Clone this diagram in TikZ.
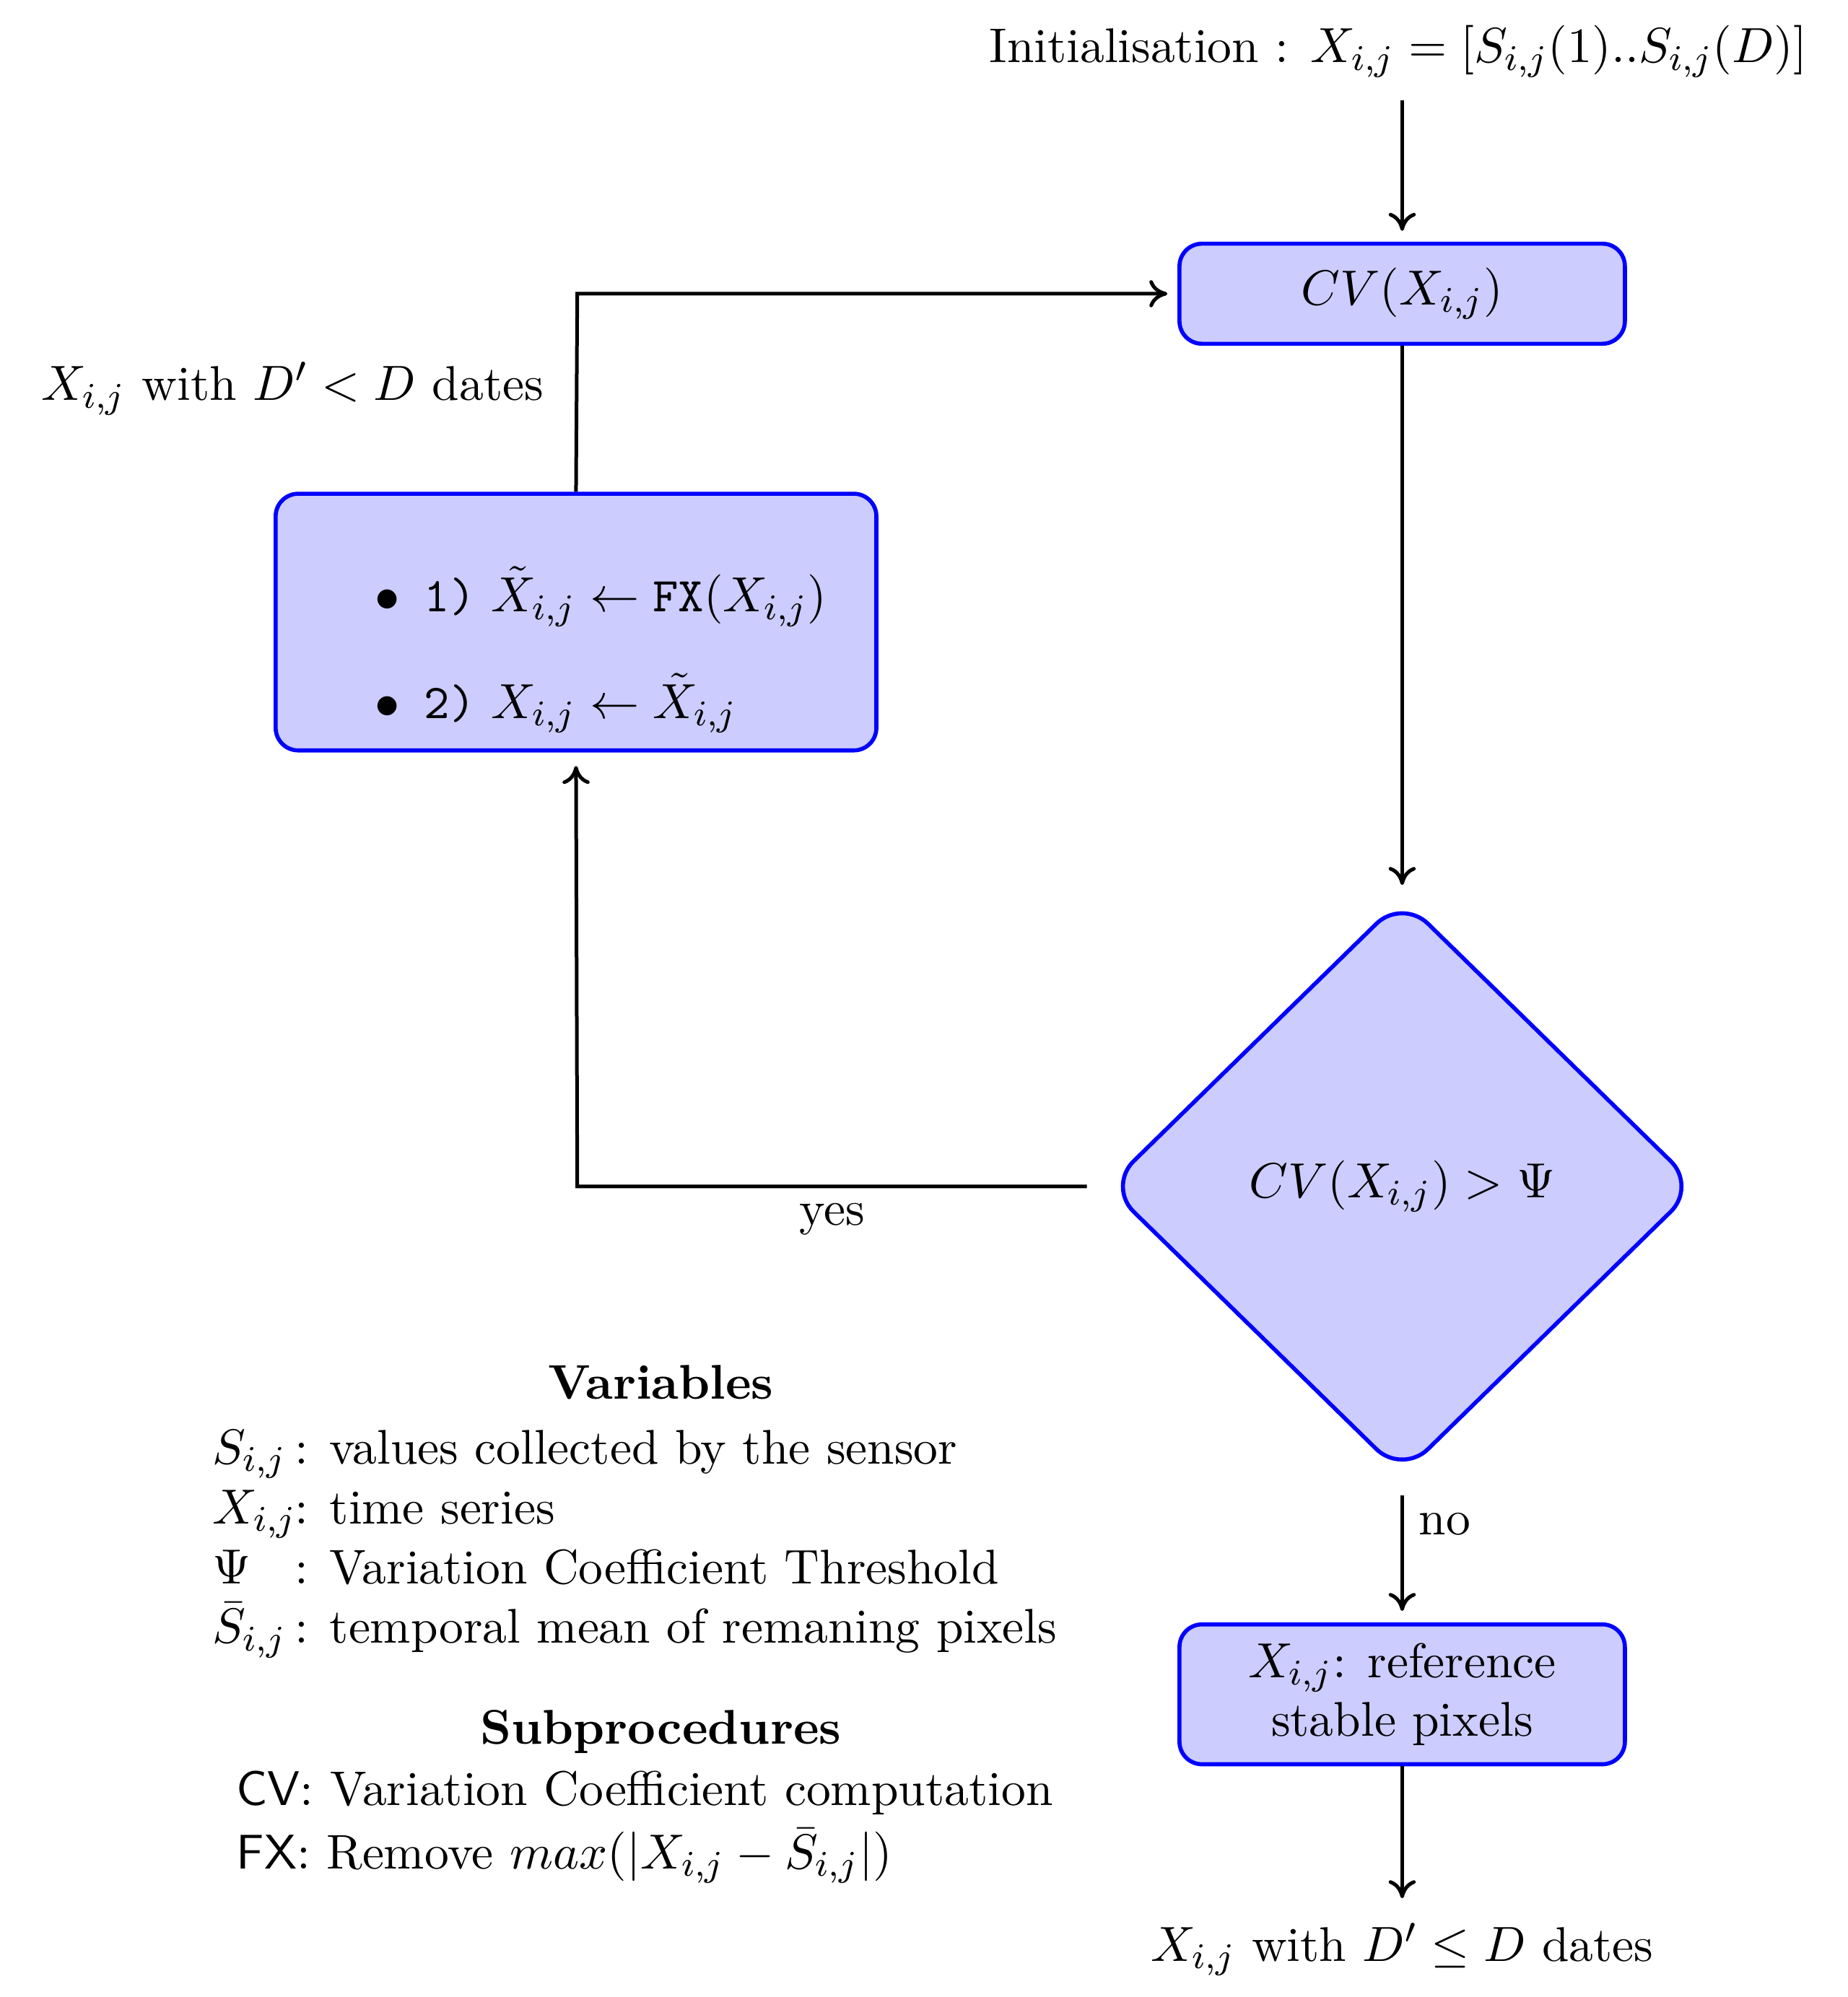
\documentclass[tikz,border=0pt]{standalone}
\usetikzlibrary{shapes.geometric,arrows.meta}
\begin{document}
\begin{tikzpicture}[x=0.01cm,y=-0.01cm,font=\fontsize{10.8}{13}\selectfont,
  box/.style={draw=blue,fill=blue!20,line width=0.9pt,rounded corners=5pt,inner sep=0pt},
  arr/.style={-{To[length=4pt,width=6pt]},line width=0.8pt},
  ln/.style={line width=0.8pt}]
\useasboundingbox (0,0) rectangle (1440,1557);
\node (init) at (1090,40) {Initialisation : $X_{i,j}=[S_{i,j}(1)..S_{i,j}(D)]$};
\node[box,minimum width=3.47cm,minimum height=0.78cm] (cv) at (1093,229) {$CV(X_{i,j})$};
\node[box,minimum width=4.68cm,minimum height=2.0cm] (fx) at (449,485) {};
\node[anchor=west] (l1) at (280,465) {$\bullet$\enspace\texttt{1)} $\tilde X_{i,j}\leftarrow \texttt{FX}(X_{i,j})$};
\node[anchor=west] (l2) at (280,548) {$\bullet$\enspace\texttt{2)} $X_{i,j}\leftarrow \tilde X_{i,j}$};
\node[box,diamond,aspect=1,rounded corners=8pt,minimum width=4.6cm,minimum height=4.5cm] (dec) at (1093,925) {$CV(X_{i,j})>\Psi$};
\node[box,minimum width=3.47cm,minimum height=1.09cm,align=center] (ref) at (1093,1321) {$X_{i,j}$: reference\\stable pixels};
\node (out) at (1093,1520) {$X_{i,j}$ with $D'\le D$ dates};
\node (dl) at (228,303) {$X_{i,j}$ with $D'<D$ dates};
\coordinate (c0) at (1093,78);
\coordinate (c1) at (1093,180);
\coordinate (c2) at (1093,690);
\coordinate (c3) at (910,229);
\coordinate (c4) at (1093,1256);
\coordinate (c5) at (1093,1480);
\draw[arr] (c0) -- (c1);
\draw[arr] (cv.south) -- (c2);
\draw[ln,-{To[length=4pt,width=6pt]}] ([xshift=-4pt]dec.west) -- (450,925) node[pos=0.5,below] {yes} -- ([yshift=-3pt]fx.south);
\draw[arr] (fx.north) -- (450,229) -- (c3);
\draw[arr] ([yshift=-4pt]dec.south) -- node[right,pos=0.25] {no} (c4);
\draw[arr] (ref.south) -- (c5);
\node (vt) at (515,1078) {\textbf{Variables}};
\node[anchor=north west,inner sep=0pt] (vars) at (165,1108) {\def\arraystretch{1.02}\begin{tabular}{@{}l@{\,}l@{}}
$S_{i,j}$ & : values collected by the sensor\\
$X_{i,j}$\!\!\! & : time series\\
$\Psi$ & : Variation Coefficient Threshold\\
$\bar S_{i,j}$ & : temporal mean of remaning pixels
\end{tabular}};
\node (st) at (515,1350) {\textbf{Subprocedures}};
\node[anchor=west] (s1) at (172,1398) {\textsf{CV}: Variation Coefficient computation};
\node[anchor=west] (s2) at (172,1447) {\textsf{FX}: Remove $max(|X_{i,j}-\bar S_{i,j}|)$};
\end{tikzpicture}
\end{document}
